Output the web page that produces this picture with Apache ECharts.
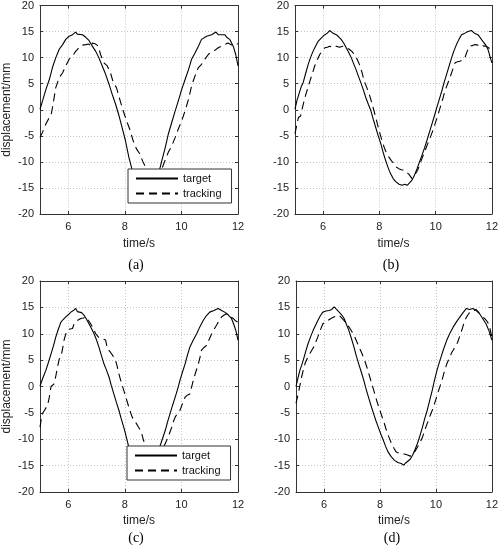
<!DOCTYPE html>
<html><head><meta charset="utf-8">
<script src="https://cdn.jsdelivr.net/npm/echarts@6/dist/echarts.min.js"></script>
<style>html,body{margin:0;padding:0;background:#fff}#c{width:501px;height:547px}</style>
</head><body><div id="c"></div>
<script>
const xTicks = [6, 8, 10, 12];
const yTicks = [-20, -15, -10, -5, 0, 5, 10, 15, 20];
const panelLabels = ['(a)', '(b)', '(c)', '(d)'];
const seriesNames = ['target', 'tracking'];

const targetA = [[5,0.1],[5.09,1.7],[5.21,3.9],[5.33,5.8],[5.44,8.1],[5.56,10.0],[5.68,11.6],[5.8,12.5],[5.91,13.5],[6.03,14.1],[6.15,14.4],[6.26,14.9],[6.32,14.5],[6.38,14.7],[6.5,14.4],[6.62,13.9],[6.73,13.3],[6.85,12.2],[6.97,11.2],[7.08,10.0],[7.2,8.4],[7.32,6.8],[7.44,4.9],[7.55,3.0],[7.67,1.1],[7.79,-1.1],[7.9,-3.4],[8.02,-5.9],[8.14,-9.1],[8.26,-11.6],[8.45,-13.5],[8.7,-14.6],[8.9,-14.5],[9.1,-13.5],[9.19,-12.3],[9.31,-9.7],[9.43,-7.2],[9.54,-4.6],[9.66,-2.4],[9.78,-0.2],[9.89,1.7],[10.01,3.9],[10.13,5.8],[10.25,7.7],[10.36,9.7],[10.48,10.9],[10.6,12.2],[10.71,13.5],[10.89,14.1],[11.07,14.4],[11.22,14.9],[11.3,14.4],[11.36,14.7],[11.53,14.4],[11.62,13.8],[11.71,13.5],[11.83,12.2],[11.92,10.6],[12,8.4]];
const trackingA = [[5,-5.3],[5.09,-4.3],[5.21,-2.7],[5.33,-1.5],[5.39,-1.1],[5.48,1.7],[5.56,4.3],[5.68,6.2],[5.8,7.1],[5.91,8.4],[6.03,9.7],[6.15,10.3],[6.26,11.2],[6.38,11.9],[6.5,12.4],[6.62,12.5],[6.73,12.6],[6.8,12.0],[6.85,12.8],[6.97,12.6],[7.06,12.2],[7.14,10.6],[7.26,9.0],[7.38,8.4],[7.49,7.1],[7.61,4.9],[7.7,4.3],[7.82,2.0],[7.94,-0.2],[8.06,-2.1],[8.17,-3.7],[8.29,-5.9],[8.41,-7.5],[8.52,-8.4],[8.64,-10.0],[8.76,-11.3],[8.95,-12.5],[9.2,-13.2],[9.3,-11.5],[9.4,-10.0],[9.54,-8.1],[9.66,-6.9],[9.78,-5.3],[9.89,-3.7],[10.01,-2.1],[10.13,-0.2],[10.25,2.0],[10.36,4.6],[10.48,6.5],[10.6,8.1],[10.71,8.7],[10.83,9.7],[10.95,10.6],[11.07,11.2],[11.18,11.4],[11.3,11.9],[11.42,12.2],[11.53,12.5],[11.65,12.8],[11.77,12.4],[11.89,12.8],[12,12.6]];

const targetB = [[5,0.1],[5.07,1.8],[5.15,3.2],[5.22,4.4],[5.29,5.2],[5.38,7.0],[5.47,8.7],[5.55,10.0],[5.64,11.2],[5.73,12.2],[5.82,13.1],[5.94,13.8],[6.06,14.4],[6.15,14.7],[6.23,15.2],[6.35,14.7],[6.47,14.4],[6.55,14.0],[6.64,13.5],[6.73,12.8],[6.82,11.9],[6.91,11.0],[7.0,10.0],[7.08,8.9],[7.17,7.7],[7.25,6.5],[7.34,5.2],[7.43,3.8],[7.52,2.3],[7.61,1.0],[7.7,-0.2],[7.78,-1.8],[7.87,-3.4],[7.96,-5.0],[8.05,-6.5],[8.13,-8.1],[8.22,-9.7],[8.31,-11.1],[8.4,-12.3],[8.49,-13.2],[8.58,-13.8],[8.7,-14.3],[8.81,-14.5],[8.9,-14.3],[8.99,-14.5],[9.08,-14.0],[9.16,-13.5],[9.25,-12.5],[9.34,-11.3],[9.42,-10.1],[9.51,-8.8],[9.6,-7.4],[9.69,-5.9],[9.78,-4.3],[9.87,-2.7],[9.96,-1.1],[10.04,0.4],[10.13,2.0],[10.22,3.6],[10.3,5.2],[10.39,6.8],[10.48,8.4],[10.57,10.0],[10.65,11.3],[10.74,12.5],[10.83,13.5],[10.92,14.4],[11.04,14.7],[11.15,15.0],[11.27,15.2],[11.38,14.7],[11.5,14.4],[11.59,13.8],[11.68,13.1],[11.77,12.5],[11.86,11.6],[11.93,10.3],[12,9.0]];
const trackingB = [[5,-4.6],[5.08,-2.5],[5.12,-1.5],[5.2,-1.2],[5.27,0.5],[5.35,2.3],[5.44,3.9],[5.53,5.5],[5.62,7.0],[5.7,8.4],[5.79,9.6],[5.88,10.6],[5.97,11.3],[6.06,11.9],[6.15,12.0],[6.23,12.2],[6.35,11.9],[6.47,12.2],[6.58,12.0],[6.7,12.2],[6.8,12.0],[6.93,11.6],[7.02,11.2],[7.11,10.6],[7.2,9.8],[7.29,8.7],[7.38,7.2],[7.46,5.5],[7.55,4.3],[7.64,3.0],[7.72,1.5],[7.81,-0.2],[7.9,-2.1],[7.99,-4.0],[8.08,-5.7],[8.17,-7.2],[8.25,-8.3],[8.34,-9.1],[8.43,-9.8],[8.52,-10.3],[8.6,-11.0],[8.69,-11.3],[8.78,-11.5],[8.87,-11.6],[8.95,-12.0],[9.04,-12.3],[9.1,-12.6],[9.16,-13.2],[9.22,-12.8],[9.28,-12.9],[9.36,-11.6],[9.45,-10.3],[9.54,-9.0],[9.63,-7.8],[9.72,-6.5],[9.81,-5.3],[9.9,-4.0],[9.98,-2.7],[10.07,-1.2],[10.16,0.4],[10.25,2.0],[10.33,3.6],[10.42,4.9],[10.51,6.2],[10.6,7.6],[10.69,9.0],[10.78,9.2],[10.86,9.3],[10.95,9.5],[11.04,10.0],[11.12,11.2],[11.21,12.2],[11.3,12.3],[11.39,12.5],[11.5,12.4],[11.62,12.6],[11.71,12.2],[11.8,12.2],[11.9,11.8],[12,11.9]];

const targetC = [[5,0.1],[5.1,1.6],[5.21,3.1],[5.3,4.6],[5.39,6.2],[5.48,7.8],[5.56,9.4],[5.65,10.9],[5.74,12.2],[5.82,12.7],[5.91,13.2],[6.0,13.6],[6.09,14.1],[6.18,14.4],[6.26,14.8],[6.32,14.2],[6.38,14.4],[6.47,14.0],[6.56,13.5],[6.64,12.8],[6.73,11.9],[6.82,11.0],[6.91,10.0],[7.0,8.8],[7.08,7.5],[7.17,5.9],[7.26,4.3],[7.35,3.1],[7.44,1.8],[7.52,0.2],[7.61,-1.4],[7.7,-3.0],[7.79,-4.5],[7.87,-6.1],[7.96,-7.7],[8.02,-8.9],[8.08,-10.2],[8.14,-11.5],[8.3,-13.0],[8.5,-14.2],[8.75,-14.6],[9.0,-14.0],[9.15,-12.6],[9.23,-11.5],[9.33,-9.9],[9.43,-8.3],[9.51,-6.7],[9.6,-5.1],[9.69,-3.5],[9.78,-2.0],[9.87,-0.4],[9.95,1.2],[10.04,2.8],[10.13,4.3],[10.21,5.9],[10.3,7.5],[10.42,8.8],[10.54,10.0],[10.65,11.3],[10.77,12.5],[10.88,13.4],[11.0,14.1],[11.15,14.4],[11.3,14.8],[11.42,14.4],[11.53,14.1],[11.65,13.6],[11.77,12.9],[11.85,11.8],[11.93,10.5],[12,8.8]];
const trackingC = [[5,-7.7],[5.05,-6.0],[5.09,-5.1],[5.15,-4.6],[5.21,-4.8],[5.27,-3.5],[5.33,-2.0],[5.39,0.0],[5.44,0.3],[5.5,0.5],[5.56,2.0],[5.62,3.7],[5.68,5.2],[5.74,5.6],[5.8,7.2],[5.85,8.8],[5.91,9.9],[5.97,10.6],[6.06,10.9],[6.15,11.0],[6.2,11.8],[6.26,12.2],[6.35,12.6],[6.44,12.9],[6.53,13.0],[6.62,13.2],[6.7,12.6],[6.79,11.9],[6.88,11.0],[6.97,10.0],[7.06,9.4],[7.14,9.1],[7.23,9.0],[7.32,8.8],[7.38,7.2],[7.44,6.9],[7.49,6.5],[7.58,5.8],[7.67,5.0],[7.73,3.8],[7.79,2.4],[7.87,0.8],[7.96,-0.7],[8.05,-2.3],[8.14,-3.9],[8.2,-4.9],[8.26,-5.8],[8.32,-6.3],[8.37,-6.7],[8.46,-7.5],[8.55,-8.3],[8.61,-9.2],[8.66,-10.2],[8.72,-11.0],[8.9,-12.5],[9.15,-13.0],[9.37,-11.5],[9.48,-10.2],[9.57,-9.0],[9.66,-7.7],[9.72,-6.6],[9.78,-5.8],[9.87,-5.0],[9.95,-4.5],[10.04,-3.2],[10.13,-2.0],[10.22,-1.6],[10.3,-1.4],[10.36,-0.1],[10.42,1.2],[10.51,2.8],[10.6,4.3],[10.66,5.6],[10.71,6.9],[10.8,7.4],[10.89,7.8],[10.98,8.9],[11.07,10.0],[11.15,10.8],[11.24,11.6],[11.33,12.5],[11.42,13.2],[11.5,13.5],[11.59,13.8],[11.71,13.3],[11.83,12.9],[11.92,12.4],[12,12.2]];

const targetD = [[5,0.0],[5.07,1.6],[5.14,3.1],[5.2,4.0],[5.26,5.0],[5.34,6.5],[5.43,8.1],[5.52,9.4],[5.61,10.6],[5.7,11.6],[5.78,12.5],[5.87,13.4],[5.96,14.1],[6.07,14.3],[6.19,14.4],[6.28,14.6],[6.37,15.1],[6.45,14.6],[6.54,14.1],[6.63,13.6],[6.72,12.9],[6.8,11.8],[6.89,10.6],[6.98,9.1],[7.07,7.5],[7.15,5.9],[7.24,4.3],[7.33,2.8],[7.42,1.2],[7.5,-0.4],[7.59,-2.0],[7.68,-3.6],[7.77,-5.1],[7.85,-6.4],[7.94,-7.7],[8.03,-9.0],[8.12,-10.2],[8.2,-11.3],[8.29,-12.4],[8.4,-13.3],[8.52,-14.0],[8.64,-14.4],[8.76,-14.6],[8.85,-14.9],[8.92,-14.5],[8.99,-14.3],[9.08,-13.8],[9.17,-13.0],[9.25,-12.0],[9.34,-10.8],[9.43,-9.3],[9.52,-7.7],[9.6,-6.1],[9.69,-4.5],[9.78,-2.6],[9.87,-0.7],[9.95,1.2],[10.04,3.1],[10.13,4.7],[10.22,6.2],[10.3,7.5],[10.39,8.8],[10.5,10.1],[10.62,11.3],[10.74,12.3],[10.86,13.2],[10.97,14.0],[11.09,14.8],[11.2,14.6],[11.32,14.8],[11.44,14.4],[11.56,13.8],[11.67,12.9],[11.79,11.9],[11.9,10.5],[12,8.8]];
const trackingD = [[5,-3.2],[5.04,-2.3],[5.08,-1.4],[5.14,0.2],[5.2,1.8],[5.26,3.1],[5.32,4.3],[5.4,5.3],[5.49,6.2],[5.58,7.0],[5.67,7.8],[5.72,8.6],[5.78,9.4],[5.87,10.7],[5.96,11.9],[6.05,12.2],[6.13,12.5],[6.25,12.9],[6.37,13.2],[6.45,13.4],[6.54,13.5],[6.63,13.0],[6.72,12.5],[6.8,11.9],[6.89,11.3],[6.95,10.8],[7.01,10.3],[7.1,9.4],[7.18,8.4],[7.27,7.3],[7.36,6.2],[7.45,5.0],[7.53,3.7],[7.62,2.1],[7.71,0.5],[7.8,-1.1],[7.88,-2.6],[7.97,-4.1],[8.06,-5.5],[8.15,-6.9],[8.23,-8.3],[8.32,-9.6],[8.41,-10.8],[8.5,-11.7],[8.58,-12.4],[8.67,-12.6],[8.76,-12.7],[8.87,-12.8],[8.99,-13.0],[9.08,-13.2],[9.17,-13.0],[9.25,-12.3],[9.34,-11.5],[9.43,-10.6],[9.52,-9.6],[9.6,-8.3],[9.69,-7.0],[9.78,-5.7],[9.87,-4.5],[9.96,-3.1],[10.04,-1.7],[10.13,-0.2],[10.22,1.2],[10.3,2.8],[10.39,4.3],[10.48,5.4],[10.57,6.5],[10.62,6.9],[10.68,6.9],[10.77,8.3],[10.86,9.7],[10.95,11.1],[11.03,12.5],[11.12,13.4],[11.21,14.1],[11.32,14.3],[11.44,14.6],[11.55,13.9],[11.67,13.2],[11.76,12.8],[11.85,12.2],[11.93,11.0],[12,9.4]];

const panelData = [[targetA, trackingA], [targetB, trackingB], [targetC, trackingC], [targetD, trackingD]];

const FONT = '"Liberation Sans", Arial, sans-serif';
const grids = [
  {left: 39, top: 4, width: 199, height: 210},
  {left: 295, top: 4, width: 199, height: 210},
  {left: 39, top: 281, width: 199, height: 211},
  {left: 296, top: 281, width: 200, height: 211}
];
const axisLine = {show: true, onZero: false, lineStyle: {color: '#333', width: 1}};
const grid = {type: [1, 2], color: '#c4c4c4', width: 1};
const xAxis = [], yAxis = [], series = [];
grids.forEach((g, i) => {
  xAxis.push({
    type: 'value', gridIndex: i, min: 5, max: 12, interval: 0.5, position: 'bottom',
    axisLine, axisTick: {show: true, inside: true, length: 3, customValues: xTicks, lineStyle: {color: '#333'}},
    axisLabel: {customValues: xTicks, color: '#222', fontSize: 11, fontFamily: FONT, margin: 7},
    splitLine: {show: true, lineStyle: grid},
    name: 'time/s', nameLocation: 'middle', nameGap: i < 2 ? 24 : 23,
    nameTextStyle: {color: '#222', fontSize: 12, fontFamily: FONT}
  });
  xAxis.push({
    type: 'value', gridIndex: i, min: 5, max: 12, interval: 0.5, position: 'top',
    axisLine, axisTick: {show: true, inside: true, length: 3, customValues: xTicks, lineStyle: {color: '#333'}},
    axisLabel: {show: false}, splitLine: {show: false}
  });
  yAxis.push({
    type: 'value', gridIndex: i, min: -20, max: 20, interval: 2.5, position: 'left',
    axisLine, axisTick: {show: true, inside: true, length: 3, customValues: yTicks, lineStyle: {color: '#333'}},
    axisLabel: {customValues: yTicks, color: '#222', fontSize: 11, fontFamily: FONT, margin: 6},
    splitLine: {show: true, lineStyle: grid},
    name: (i % 2 === 0) ? 'displacement/mm' : '', nameLocation: 'middle', nameGap: 27,
    nameTextStyle: {color: '#222', fontSize: 12, fontFamily: FONT}
  });
  yAxis.push({
    type: 'value', gridIndex: i, min: -20, max: 20, interval: 2.5, position: 'right',
    axisLine, axisTick: {show: true, inside: true, length: 3, customValues: yTicks, lineStyle: {color: '#333'}},
    axisLabel: {show: false}, splitLine: {show: false}
  });
  panelData[i].forEach((d, k) => {
    series.push({
      name: seriesNames[k], type: 'line', xAxisIndex: 2 * i, yAxisIndex: 2 * i,
      data: d, symbol: 'none', showSymbol: false, smooth: false,
      lineStyle: {color: '#000', width: 1.1, type: k === 0 ? 'solid' : [8, 5]},
      itemStyle: {color: '#000'}, emphasis: {disabled: true}, z: 3
    });
  });
});
const legendBase = {
  orient: 'vertical', data: seriesNames, backgroundColor: '#fff', borderColor: '#333', borderWidth: 1,
  padding: [4, 10, 4, 7], itemWidth: 42, itemHeight: 10, itemGap: 4, itemStyle: {opacity: 0},
  textStyle: {color: '#111', fontSize: 11, fontFamily: FONT}, selectedMode: false, z: 10
};
const legend = [
  Object.assign({}, legendBase, {left: 128, top: 169}),
  Object.assign({}, legendBase, {left: 127, top: 446})
];
const captionPos = [[136, 265], [391, 265], [136, 538], [392, 538]];
const graphic = panelLabels.map((t, i) => ({
  type: 'text', x: captionPos[i][0], y: captionPos[i][1],
  style: {text: t, fill: '#000', font: '14px "Liberation Serif", "DejaVu Serif", serif', textAlign: 'center', textVerticalAlign: 'middle'}
}));
const chart = echarts.init(document.getElementById('c'), null, {renderer: 'canvas'});
chart.setOption({animation: false, backgroundColor: '#fff', grid: grids, xAxis, yAxis, series, legend, graphic});
</script>
</body></html>
